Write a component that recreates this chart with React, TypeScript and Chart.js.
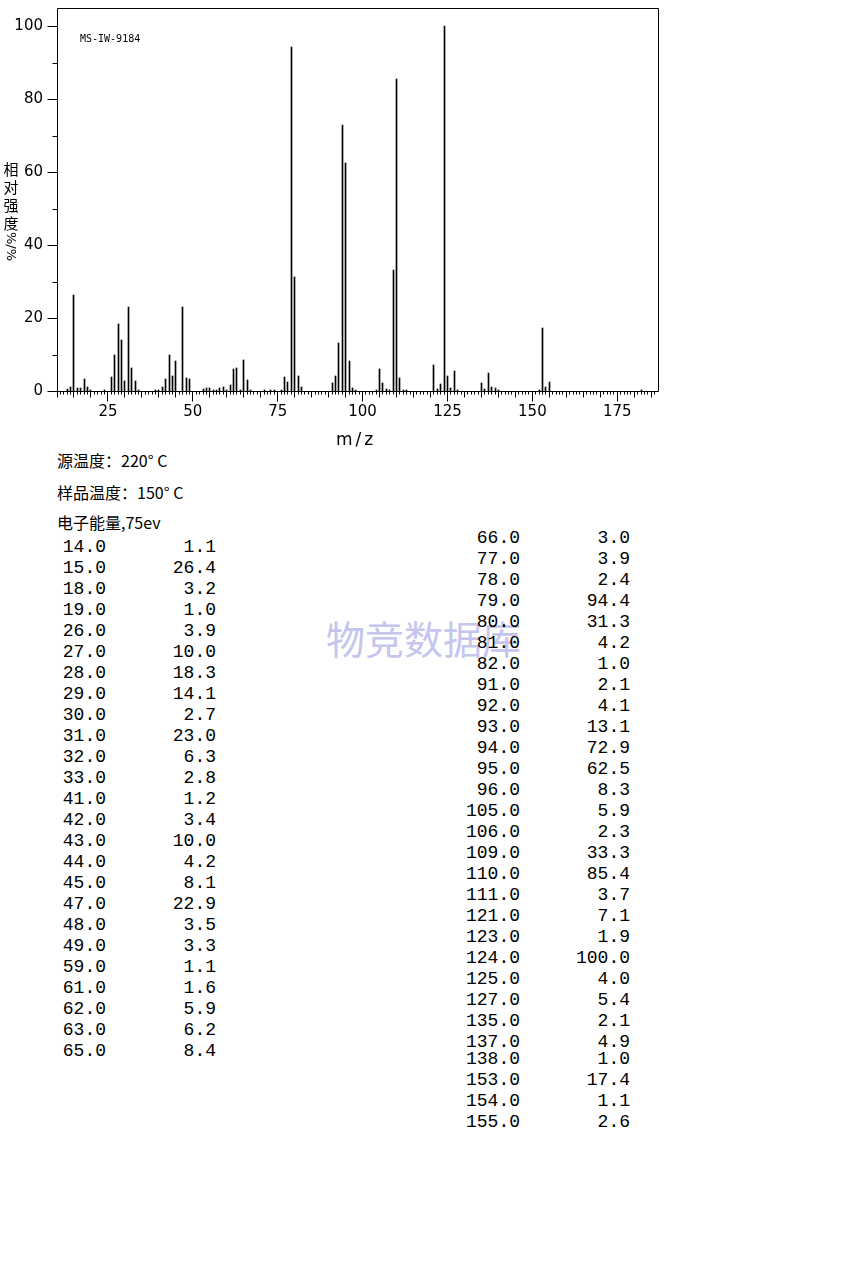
import React, { useEffect, useRef } from "react";
import { Chart, registerables } from "chart.js";

Chart.register(...registerables);

// ---- data ----
const tableMz = [14, 15, 18, 19, 26, 27, 28, 29, 30, 31, 32, 33, 41, 42, 43, 44, 45, 47, 48, 49, 59, 61, 62, 63, 65,
  66, 77, 78, 79, 80, 81, 82, 91, 92, 93, 94, 95, 96, 105, 106, 109, 110, 111, 121, 123, 124, 125, 127, 135, 137,
  138, 153, 154, 155];
const tableIntensity = [1.1, 26.4, 3.2, 1.0, 3.9, 10.0, 18.3, 14.1, 2.7, 23.0, 6.3, 2.8, 1.2, 3.4, 10.0, 4.2, 8.1, 22.9, 3.5, 3.3, 1.1, 1.6, 5.9, 6.2, 8.4,
  3.0, 3.9, 2.4, 94.4, 31.3, 4.2, 1.0, 2.1, 4.1, 13.1, 72.9, 62.5, 8.3, 5.9, 2.3, 33.3, 85.4, 3.7, 7.1, 1.9, 100.0, 4.0, 5.4, 2.1, 4.9,
  1.0, 17.4, 1.1, 2.6];
// small peaks (<1 %) visible in the spectrum but not listed in the table
const minorMz = [13, 16, 17, 20, 24, 34, 39, 40, 53, 54, 55, 56, 57, 58, 60, 64, 67, 71, 73, 74, 76, 97, 98, 104, 107, 108, 112, 113, 122, 126, 128, 136, 139, 140, 152, 182];
const minorIntensity = [0.5, 0.7, 0.9, 0.4, 0.4, 0.3, 0.4, 0.4, 0.5, 0.7, 0.7, 0.4, 0.4, 0.7, 0.3, 0.4, 0.3, 0.4, 0.3, 0.3, 0.4, 0.7, 0.3, 0.4, 0.5, 0.4, 0.4, 0.3, 0.5, 0.7, 0.3, 0.5, 0.7, 0.3, 0.4, 0.3];

const xTickValues = [25, 50, 75, 100, 125, 150, 175];
const yTickValues = [0, 20, 40, 60, 80, 100];
const X_MIN = 10;
const X_MAX = 187;
const Y_MAX = 105;

const sampleId = "MS-IW-9184";
const yTitleChars = ["相", "对", "强", "度"];
const yTitleUnit = "%/%";
const xTitle = "m/z";
const infoLines = ["源温度：220° C", "样品温度：150° C", "电子能量,75ev"];
const watermark = "物竞数据库";

const LEFT_ROWS = 25;
const RIGHT_ROWS_A = 25;

const fmt = (v: number) => v.toFixed(1);

const axisPlugin = {
  id: "msAxes",
  afterDatasetsUpdate(chart: any) {
    chart.data.datasets.forEach((_d: any, i: number) => {
      const meta = chart.getDatasetMeta(i);
      meta.data.forEach((el: any) => {
        el.x = Math.floor(el.x) + 0.5;
        el.y = Math.round(el.y);
        el.base = Math.round(el.base);
      });
    });
  },
  afterDraw(chart: any) {
    const { ctx, chartArea } = chart;
    const xs = chart.scales.x;
    const ys = chart.scales.y;
    ctx.save();
    ctx.strokeStyle = "#000";
    ctx.lineWidth = 1;
    ctx.beginPath();
    const l = chartArea.left + 0.5;
    const t = chartArea.top + 0.5;
    const r = chartArea.right + 0.5;
    const b = chartArea.bottom + 0.5;
    ctx.rect(l, t, r - l, b - t);
    for (let v = 0; v <= 100; v += 10) {
      const y = Math.round(ys.getPixelForValue(v)) + 0.5;
      const len = v % 20 === 0 ? 10 : 5;
      ctx.moveTo(l - len, y);
      ctx.lineTo(l, y);
    }
    for (let v = X_MIN; v <= X_MAX - 1; v += 1) {
      const x = Math.floor(xs.getPixelForValue(v)) + 0.5;
      const len = v % 25 === 0 ? 10 : v % 5 === 0 ? 6 : 3;
      ctx.moveTo(x, b);
      ctx.lineTo(x, b + len);
    }
    ctx.stroke();
    ctx.fillStyle = "#000";
    ctx.font = "10px 'DejaVu Sans Mono'";
    ctx.textBaseline = "middle";
    ctx.fillText(sampleId, 80, 39);
    ctx.restore();
  },
};

function SpectrumChart() {
  const ref = useRef<HTMLCanvasElement | null>(null);
  useEffect(() => {
    if (!ref.current) return;
    const xFont = { family: "'DejaVu Sans'", size: 15 };
    const yFont = { family: "'DejaVu Sans'", size: 15, lineHeight: 1 };
    const chart = new Chart(ref.current, {
      type: "bar",
      data: {
        datasets: [
          {
            data: tableMz.map((x, i) => ({ x, y: tableIntensity[i] })),
            backgroundColor: "#000",
            borderWidth: 0,
            barThickness: 1,
            grouped: false,
          } as any,
          {
            data: minorMz.map((x, i) => ({ x, y: minorIntensity[i] })),
            backgroundColor: "#000",
            borderWidth: 0,
            barThickness: 1,
            grouped: false,
          } as any,
        ],
      },
      options: {
        animation: false,
        responsive: false,
        devicePixelRatio: 1,
        layout: { padding: { top: 8, right: 192, left: 0, bottom: 0 } },
        plugins: { legend: { display: false }, tooltip: { enabled: false }, title: { display: false } },
        scales: {
          x: {
            type: "linear",
            offset: false,
            min: X_MIN,
            max: X_MAX,
            grid: { display: false, drawTicks: true, tickLength: 10, offset: false },
            border: { display: false },
            ticks: { font: xFont, color: "#000", padding: 2, maxRotation: 0, autoSkip: false },
            afterBuildTicks: (s: any) => {
              s.ticks = xTickValues.map((v) => ({ value: v }));
            },
            afterFit: (s: any) => {
              s.height = 39;
            },
          },
          y: {
            type: "linear",
            min: 0,
            max: Y_MAX,
            grid: { display: false, drawTicks: true, tickLength: 14 },
            border: { display: false },
            ticks: { font: yFont, color: "#000", padding: 0, autoSkip: false },
            afterBuildTicks: (s: any) => {
              s.ticks = yTickValues.map((v) => ({ value: v }));
            },
            afterFit: (s: any) => {
              s.width = 57;
            },
          },
        },
      } as any,
      plugins: [axisPlugin],
    });
    return () => chart.destroy();
  }, []);
  return (
    <canvas
      ref={ref}
      width={850}
      height={430}
      style={{ position: "absolute", left: 0, top: 0, width: 850, height: 430 }}
    />
  );
}

const monoFont = "'Liberation Mono', 'Courier New', monospace";
const cjkFont = "'Noto Sans CJK SC', 'DejaVu Sans', sans-serif";

function Row({ mz, val, c1, c2 }: { mz: number; val: number; c1: number; c2: number }) {
  return (
    <div style={{ position: "relative", height: 21, lineHeight: "21px" }}>
      <span style={{ position: "absolute", left: 0, width: c1, textAlign: "right" }}>{fmt(mz)}</span>
      <span style={{ position: "absolute", left: 0, width: c2, textAlign: "right" }}>{fmt(val)}</span>
    </div>
  );
}

export default function App() {
  const leftIdx = tableMz.slice(0, LEFT_ROWS).map((_, i) => i);
  const rightA = tableMz.slice(LEFT_ROWS, LEFT_ROWS + RIGHT_ROWS_A).map((_, i) => i + LEFT_ROWS);
  const rightB = tableMz.slice(LEFT_ROWS + RIGHT_ROWS_A).map((_, i) => i + LEFT_ROWS + RIGHT_ROWS_A);
  return (
    <div style={{ position: "absolute", left: 0, top: 0, width: 850, height: 1276, background: "#fff", color: "#000" }}>
      <SpectrumChart />
      {/* y axis title */}
      <div style={{ position: "absolute", left: 3, top: 160, width: 16, fontFamily: cjkFont, fontSize: 15, textAlign: "center" }}>
        {yTitleChars.map((c) => (
          <div key={c} style={{ height: 18, lineHeight: "18px" }}>{c}</div>
        ))}
        <div style={{ writingMode: "vertical-rl", fontFamily: "'DejaVu Sans'", fontSize: 13, lineHeight: "16px", margin: "0 auto" }}>{yTitleUnit}</div>
      </div>
      {/* x axis title */}
      <div style={{ position: "absolute", left: 336, top: 428, fontFamily: "'DejaVu Sans'", fontSize: 17, letterSpacing: 3, lineHeight: "22px" }}>{xTitle}</div>
      {/* info */}
      {infoLines.map((t, i) => (
        <div key={t} style={{ position: "absolute", left: 57, top: [449, 481, 511][i], fontFamily: cjkFont, fontSize: 16, lineHeight: "22px", whiteSpace: "pre" }}>{t}</div>
      ))}
      {/* watermark */}
      <div style={{ position: "absolute", left: 326, top: 615, fontFamily: cjkFont, fontSize: 39, lineHeight: "44px", color: "rgb(197,197,238)", whiteSpace: "nowrap" }}>{watermark}</div>
      {/* table */}
      <div style={{ position: "absolute", left: 0, top: 537, width: 300, height: 520, overflow: "hidden", fontFamily: monoFont, fontSize: 18 }}>
        {leftIdx.map((i) => (
          <Row key={i} mz={tableMz[i]} val={tableIntensity[i]} c1={106} c2={216} />
        ))}
      </div>
      <div style={{ position: "absolute", left: 0, top: 528, width: 700, fontFamily: monoFont, fontSize: 18 }}>
        {rightA.map((i) => (
          <Row key={i} mz={tableMz[i]} val={tableIntensity[i]} c1={520} c2={630} />
        ))}
      </div>
      <div style={{ position: "absolute", left: 0, top: 1049, width: 700, fontFamily: monoFont, fontSize: 18 }}>
        {rightB.map((i) => (
          <Row key={i} mz={tableMz[i]} val={tableIntensity[i]} c1={520} c2={630} />
        ))}
      </div>
    </div>
  );
}
